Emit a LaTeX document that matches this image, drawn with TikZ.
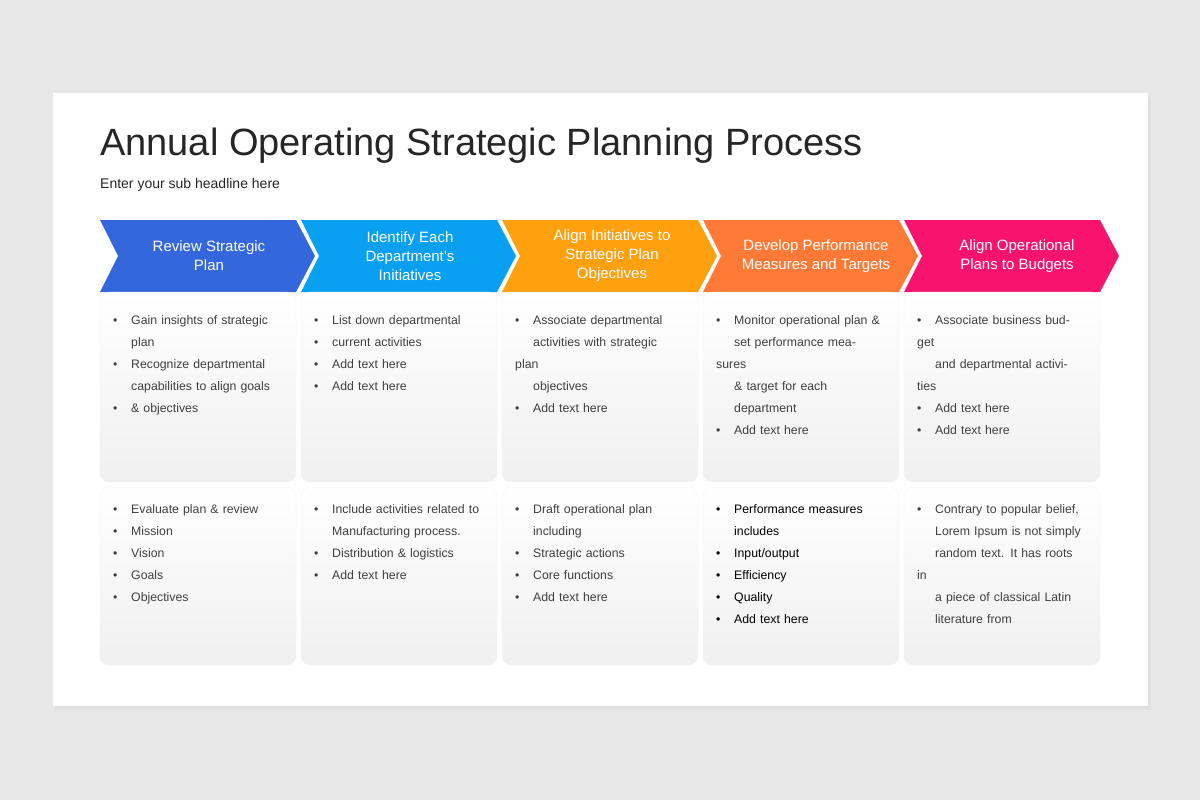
\documentclass[tikz,border=0pt]{standalone}
\usepackage{fontspec}
\setmainfont{Liberation Sans}
\begin{document}
\begin{tikzpicture}[x=1pt,y=-1pt,
  hdr/.style={align=center,text=white,font=\fontsize{15}{19}\selectfont,inner sep=0},
  body/.style={anchor=north west,align=left,text=black!75,font=\fontsize{12.3}{22}\selectfont,inner sep=0,text width=165pt},
  card/.style={rounded corners=9pt,top color=white,bottom color=black!6,draw=black!4}]
\definecolor{bg}{HTML}{E9E8E9}
\definecolor{cA}{HTML}{3466DC}
\definecolor{cB}{HTML}{0AA0F2}
\definecolor{cC}{HTML}{FFA00F}
\definecolor{cD}{HTML}{FF7A36}
\definecolor{cE}{HTML}{F7136E}
\fill[bg] (0,0) rectangle (1200,800);
\useasboundingbox (0,0) rectangle (1200,800);
\fill[black!12] (55,97) rectangle (1151,710);
\fill[white] (53,93) rectangle (1148,706);
\node[anchor=base west,inner sep=0,font=\fontsize{38}{40}\selectfont,text=black!85] (title) at (100,155) {Annual Operating Strategic Planning Process};
\node[anchor=base west,inner sep=0,font=\fontsize{14}{16}\selectfont,text=black!85] (sub) at (100,188) {Enter your sub headline here};
\foreach \i/\c in {0/cA,1/cB,2/cC,3/cD,4/cE}{
  \pgfmathsetmacro\x{100+201*\i}
  \fill[\c] (\x,220) -- (\x+196,220) -- (\x+215,256) -- (\x+196,292) -- (\x,292) -- (\x+18,256) -- cycle;
  \draw[card] (\x,292) rectangle (\x+196,482);
  \draw[card] (\x,487) rectangle (\x+196,665);
}
\node[hdr] (h1) at (209,256) {Review Strategic\\Plan};
\node[hdr] (h2) at (410,256) {Identify Each\\Department's\\Initiatives};
\node[hdr] (h3) at (612,256) {Align Initiatives to\\Strategic Plan\\Objectives};
\node[hdr] (h4) at (816,256) {Develop Performance\\Measures and Targets};
\node[hdr] (h5) at (1017,256) {Align Operational\\Plans to Budgets};
\newcommand\bl[1]{\makebox[18pt][l]{\textbullet}#1\par}
\newcommand\cl[1]{\hspace*{18pt}#1\par}
\node[body] (a1) at (113,315) {\bl{Gain insights of strategic}\cl{plan}\bl{Recognize departmental}\cl{capabilities to align goals}\bl{\& objectives}};
\node[body] (b1) at (314,315) {\bl{List down departmental}\bl{current activities}\bl{Add text here}\bl{Add text here}};
\node[body] (c1) at (515,315) {\bl{Associate departmental}\cl{activities with strategic plan}\cl{objectives}\bl{Add text here}};
\node[body] (d1) at (716,315) {\bl{Monitor operational plan \&}\cl{set performance measures}\cl{\& target for each}\cl{department}\bl{Add text here}};
\node[body] (e1) at (917,315) {\bl{Associate business budget}\cl{and departmental activities}\bl{Add text here}\bl{Add text here}};
\node[body] (a2) at (113,504) {\bl{Evaluate plan \& review}\bl{Mission}\bl{Vision}\bl{Goals}\bl{Objectives}};
\node[body] (b2) at (314,504) {\bl{Include activities related to}\cl{Manufacturing process.}\bl{Distribution \& logistics}\bl{Add text here}};
\node[body] (c2) at (515,504) {\bl{Draft operational plan}\cl{including}\bl{Strategic actions}\bl{Core functions}\bl{Add text here}};
\node[body,text=black] (d2) at (716,504) {\bl{Performance measures}\cl{includes}\bl{Input/output}\bl{Efficiency}\bl{Quality}\bl{Add text here}};
\node[body] (e2) at (917,504) {\bl{Contrary to popular belief,}\cl{Lorem Ipsum is not simply}\cl{random text.  It has roots in}\cl{a piece of classical Latin}\cl{literature from}};
\end{tikzpicture}
\end{document}
